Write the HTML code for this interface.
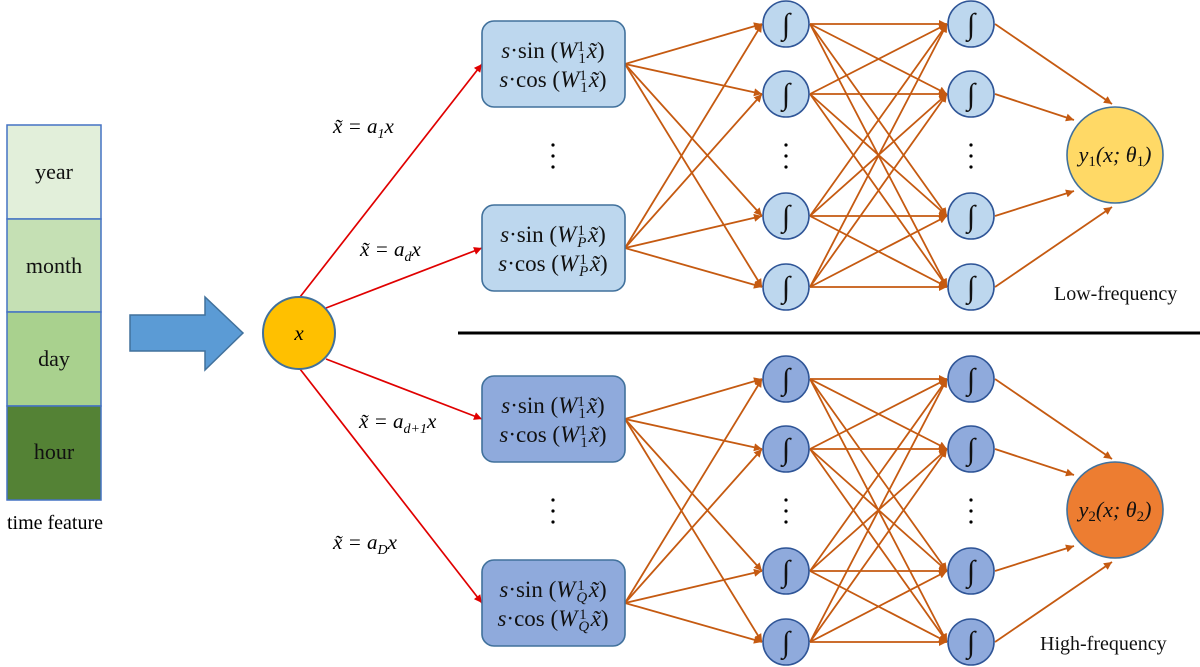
<!DOCTYPE html>
<html><head><meta charset="utf-8"><style>
html,body{margin:0;padding:0;background:#fff;width:1200px;height:667px;overflow:hidden}
svg{display:block}
.m{font-family:"Liberation Serif",serif;font-style:italic}
.r{font-family:"Liberation Serif",serif}
</style></head><body>
<svg width="1200" height="667" viewBox="0 0 1200 667" xmlns="http://www.w3.org/2000/svg">
<defs>
<marker id="ao" viewBox="0 0 10 10" refX="10" refY="5" markerWidth="9" markerHeight="8" orient="auto" markerUnits="userSpaceOnUse"><path d="M0,0 L10,5 L0,10 z" fill="#c55a11"/></marker>
<marker id="ar" viewBox="0 0 10 10" refX="10" refY="5" markerWidth="9" markerHeight="8" orient="auto" markerUnits="userSpaceOnUse"><path d="M0,0 L10,5 L0,10 z" fill="#e00000"/></marker>
<g id="net" stroke="#c55a11" stroke-width="1.8" marker-end="url(#ao)">
<line x1="625" y1="64" x2="762" y2="24"/><line x1="625" y1="64" x2="762" y2="94"/><line x1="625" y1="64" x2="762" y2="216"/><line x1="625" y1="64" x2="762" y2="287"/>
<line x1="625" y1="248" x2="762" y2="24"/><line x1="625" y1="248" x2="762" y2="94"/><line x1="625" y1="248" x2="762" y2="216"/><line x1="625" y1="248" x2="762" y2="287"/>
<line x1="810" y1="24" x2="947" y2="24"/><line x1="810" y1="24" x2="947" y2="94"/><line x1="810" y1="24" x2="947" y2="216"/><line x1="810" y1="24" x2="947" y2="287"/>
<line x1="810" y1="94" x2="947" y2="24"/><line x1="810" y1="94" x2="947" y2="94"/><line x1="810" y1="94" x2="947" y2="216"/><line x1="810" y1="94" x2="947" y2="287"/>
<line x1="810" y1="216" x2="947" y2="24"/><line x1="810" y1="216" x2="947" y2="94"/><line x1="810" y1="216" x2="947" y2="216"/><line x1="810" y1="216" x2="947" y2="287"/>
<line x1="810" y1="287" x2="947" y2="24"/><line x1="810" y1="287" x2="947" y2="94"/><line x1="810" y1="287" x2="947" y2="216"/><line x1="810" y1="287" x2="947" y2="287"/>
<line x1="995" y1="24" x2="1112" y2="104"/><line x1="995" y1="94" x2="1074" y2="120"/><line x1="995" y1="216" x2="1074" y2="191"/><line x1="995" y1="287" x2="1112" y2="207"/>
</g>
<g id="dots" fill="#000"><circle cx="553" cy="145" r="1.6"/><circle cx="553" cy="156" r="1.6"/><circle cx="553" cy="167" r="1.6"/>
<circle cx="786" cy="145" r="1.6"/><circle cx="786" cy="156" r="1.6"/><circle cx="786" cy="167" r="1.6"/>
<circle cx="971" cy="145" r="1.6"/><circle cx="971" cy="156" r="1.6"/><circle cx="971" cy="167" r="1.6"/></g>
</defs>

<rect x="7" y="125" width="94" height="94" fill="#e2efda" stroke="#4472c4" stroke-width="1.5"/>
<rect x="7" y="219" width="94" height="93" fill="#c5e0b4" stroke="#4472c4" stroke-width="1.5"/>
<rect x="7" y="312" width="94" height="94" fill="#a9d18e" stroke="#4472c4" stroke-width="1.5"/>
<rect x="7" y="406" width="94" height="94" fill="#548235" stroke="#4472c4" stroke-width="1.5"/>
<g class="r" font-size="22" text-anchor="middle" fill="#111">
<text x="54" y="179">year</text><text x="54" y="273">month</text><text x="54" y="366">day</text><text x="54" y="459">hour</text>
</g>
<text class="r" x="55" y="529" font-size="20" text-anchor="middle">time feature</text>

<path d="M130,315 L205,315 L205,297 L243,333 L205,370 L205,351 L130,351 Z" fill="#5b9bd5" stroke="#41719c" stroke-width="1.5"/>

<g stroke="#e00000" stroke-width="1.7" marker-end="url(#ar)">
<line x1="300" y1="297" x2="482" y2="64"/><line x1="326" y1="308" x2="482" y2="248"/>
<line x1="326" y1="359" x2="482" y2="419"/><line x1="300" y1="369" x2="482" y2="603"/>
</g>
<circle cx="299" cy="333" r="36" fill="#ffc000" stroke="#41719c" stroke-width="2"/>
<text class="m" x="299" y="340" font-size="21" text-anchor="middle">x</text>

<g class="m" font-size="21">
<text x="333" y="133">x̃ = a<tspan font-size="14" dy="5">1</tspan><tspan dy="-5">x</tspan></text>
<text x="360" y="256">x̃ = a<tspan font-size="14" dy="5">d</tspan><tspan dy="-5">x</tspan></text>
<text x="359" y="428">x̃ = a<tspan font-size="14" dy="5">d+1</tspan><tspan dy="-5">x</tspan></text>
<text x="333" y="549">x̃ = a<tspan font-size="14" dy="5">D</tspan><tspan dy="-5">x</tspan></text>
</g>

<use href="#net"/>
<use href="#net" transform="translate(0,355)"/>
<use href="#dots"/>
<use href="#dots" transform="translate(0,355)"/>

<g stroke="#41719c" stroke-width="1.6">
<rect x="482" y="21" width="143" height="86" rx="12" fill="#bdd7ee"/>
<rect x="482" y="205" width="143" height="86" rx="12" fill="#bdd7ee"/>
<rect x="482" y="376" width="143" height="86" rx="12" fill="#8faadc"/>
<rect x="482" y="560" width="143" height="86" rx="12" fill="#8faadc"/>
</g>
<g font-size="23" font-family="Liberation Serif,serif" text-anchor="middle" fill="#111">
<text x="553" y="58"><tspan font-style="italic">s</tspan>·sin (<tspan font-style="italic">W</tspan><tspan font-size="15" dx="1" dy="5">1</tspan><tspan font-size="15" dx="-8" dy="-12">1</tspan><tspan font-style="italic" dx="2" dy="7">x̃</tspan>)</text>
<text x="553" y="87"><tspan font-style="italic">s</tspan>·cos (<tspan font-style="italic">W</tspan><tspan font-size="15" dx="1" dy="5">1</tspan><tspan font-size="15" dx="-8" dy="-12">1</tspan><tspan font-style="italic" dx="2" dy="7">x̃</tspan>)</text>
<text x="553" y="242"><tspan font-style="italic">s</tspan>·sin (<tspan font-style="italic">W</tspan><tspan font-size="15" font-style="italic" dx="1" dy="5">P</tspan><tspan font-size="15" dx="-9" dy="-12">1</tspan><tspan font-style="italic" dx="3" dy="7">x̃</tspan>)</text>
<text x="553" y="271"><tspan font-style="italic">s</tspan>·cos (<tspan font-style="italic">W</tspan><tspan font-size="15" font-style="italic" dx="1" dy="5">P</tspan><tspan font-size="15" dx="-9" dy="-12">1</tspan><tspan font-style="italic" dx="3" dy="7">x̃</tspan>)</text>
<text x="553" y="413"><tspan font-style="italic">s</tspan>·sin (<tspan font-style="italic">W</tspan><tspan font-size="15" dx="1" dy="5">1</tspan><tspan font-size="15" dx="-8" dy="-12">1</tspan><tspan font-style="italic" dx="2" dy="7">x̃</tspan>)</text>
<text x="553" y="442"><tspan font-style="italic">s</tspan>·cos (<tspan font-style="italic">W</tspan><tspan font-size="15" dx="1" dy="5">1</tspan><tspan font-size="15" dx="-8" dy="-12">1</tspan><tspan font-style="italic" dx="2" dy="7">x̃</tspan>)</text>
<text x="553" y="597"><tspan font-style="italic">s</tspan>·sin (<tspan font-style="italic">W</tspan><tspan font-size="15" font-style="italic" dx="1" dy="5">Q</tspan><tspan font-size="15" dx="-10" dy="-12">1</tspan><tspan font-style="italic" dx="4" dy="7">x̃</tspan>)</text>
<text x="553" y="626"><tspan font-style="italic">s</tspan>·cos (<tspan font-style="italic">W</tspan><tspan font-size="15" font-style="italic" dx="1" dy="5">Q</tspan><tspan font-size="15" dx="-10" dy="-12">1</tspan><tspan font-style="italic" dx="4" dy="7">x̃</tspan>)</text>
</g>

<g stroke="#2f5597" stroke-width="1.6" fill="#bdd7ee">
<circle cx="786" cy="24" r="23"/><circle cx="786" cy="94" r="23"/><circle cx="786" cy="216" r="23"/><circle cx="786" cy="287" r="23"/>
<circle cx="971" cy="24" r="23"/><circle cx="971" cy="94" r="23"/><circle cx="971" cy="216" r="23"/><circle cx="971" cy="287" r="23"/>
</g>
<g stroke="#2f5597" stroke-width="1.6" fill="#8faadc">
<circle cx="786" cy="379" r="23"/><circle cx="786" cy="449" r="23"/><circle cx="786" cy="571" r="23"/><circle cx="786" cy="642" r="23"/>
<circle cx="971" cy="379" r="23"/><circle cx="971" cy="449" r="23"/><circle cx="971" cy="571" r="23"/><circle cx="971" cy="642" r="23"/>
</g>
<g class="m" font-size="30" text-anchor="middle" fill="#111">
<text x="786" y="34">∫</text><text x="786" y="104">∫</text><text x="786" y="226">∫</text><text x="786" y="297">∫</text>
<text x="971" y="34">∫</text><text x="971" y="104">∫</text><text x="971" y="226">∫</text><text x="971" y="297">∫</text>
<text x="786" y="389">∫</text><text x="786" y="459">∫</text><text x="786" y="581">∫</text><text x="786" y="652">∫</text>
<text x="971" y="389">∫</text><text x="971" y="459">∫</text><text x="971" y="581">∫</text><text x="971" y="652">∫</text>
</g>

<circle cx="1115" cy="155" r="48" fill="#ffd966" stroke="#41719c" stroke-width="1.6"/>
<circle cx="1115" cy="510" r="48" fill="#ed7d31" stroke="#41719c" stroke-width="1.6"/>
<g class="m" font-size="22" text-anchor="middle" fill="#111">
<text x="1115" y="162">y<tspan font-size="15" font-style="normal" dy="4">1</tspan><tspan dy="-4">(x; θ</tspan><tspan font-size="15" font-style="normal" dy="4">1</tspan><tspan dy="-4">)</tspan></text>
<text x="1115" y="517">y<tspan font-size="15" font-style="normal" dy="4">2</tspan><tspan dy="-4">(x; θ</tspan><tspan font-size="15" font-style="normal" dy="4">2</tspan><tspan dy="-4">)</tspan></text>
</g>

<line x1="458" y1="333" x2="1200" y2="333" stroke="#000" stroke-width="3"/>
<g class="r" font-size="20" fill="#111">
<text x="1054" y="300">Low-frequency</text>
<text x="1040" y="650">High-frequency</text>
</g>
</svg>
</body></html>
